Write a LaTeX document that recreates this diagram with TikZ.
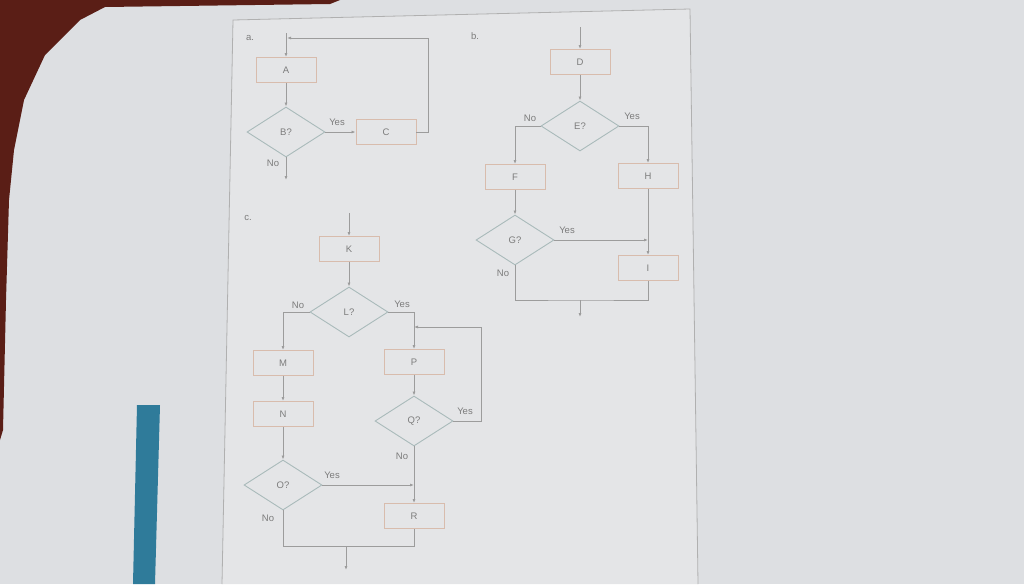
\documentclass[tikz,border=0pt]{standalone}
\usepackage{fontspec}
\setmainfont{Liberation Sans}
\usetikzlibrary{shapes.geometric,arrows.meta,positioning}
\definecolor{wall}{HTML}{DDDFE2}
\definecolor{paper}{HTML}{E4E5E7}
\definecolor{ink}{HTML}{9C9C9C}
\definecolor{boxline}{HTML}{D8BCAD}
\definecolor{diamline}{HTML}{A9BABA}
\definecolor{txt}{HTML}{7C7C7C}
\definecolor{desk}{HTML}{5A1E16}
\definecolor{tab}{HTML}{2F7B9A}

\begin{document}
\begin{tikzpicture}[x=1pt, y=-1pt, node distance=62pt,
  every node/.style={font=\fontsize{9.5}{10}\selectfont, text=txt},
  proc node/.style={draw=boxline, line width=0.9pt, minimum width=60pt, minimum height=25pt, inner sep=0pt},
  test node/.style={diamond, draw=diamline, line width=0.9pt, minimum width=78pt, minimum height=50pt, inner sep=0pt},
  flow/.style={draw=ink, line width=0.8pt, -{Latex[length=4pt,width=3pt]}},
  plain/.style={draw=ink, line width=0.8pt},
  tag/.style={inner sep=1pt}]
\useasboundingbox (0,0) rectangle (1024,584);
% photo background
\fill[wall] (0,0) rectangle (1024,584);
\fill[paper] (233,20) -- (690,9) -- (698,584) -- (222,584) -- cycle;
\draw[ink!80, line width=0.8pt] (222,584) -- (233,20) -- (690,9) -- (698,584);
\fill[desk] (0,0) -- (340,0) -- (330,4) -- (105,7) -- (80,20) -- (45,55) -- (24,100)
  -- (14,150) -- (9,200) -- (6,300) -- (3,430) -- (0,440) -- cycle;
\fill[tab] (137,405) -- (160,405) -- (155,584) -- (133,584) -- cycle;

% a.
\node[tag] (a lab) at (250,38) {a.};
\node[proc node]               (A) at (286,70) {A};
\node[test node, below of=A]   (B) {B?};
\node[proc node, right of=B, node distance=100pt] (C) {C};
\coordinate (a in)   at (286,33);
\coordinate (a back) at (428,38);
\coordinate (a join) at (287,38);
\coordinate (a out)  at (286,180);
\draw[flow] (a in) -- (A.north);
\draw[flow] (A) -- (B);
\draw[flow] (B.east) -- (C.west);
\draw[flow] (C.east) -| (a back) -- (a join);
\draw[flow] (B.south) -- (a out);
\node[tag] (a yes) at (337,122) {Yes};
\node[tag] (a no)  at (273,163) {No};

% b.
\node[tag] (b lab) at (475,36) {b.};
\node[proc node]                                 (D) at (580,62) {D};
\node[test node, below of=D, node distance=64pt] (E) {E?};
\node[proc node]                                 (F) at (515,177) {F};
\node[proc node]                                 (H) at (648,176) {H};
\node[test node, below of=F, node distance=63pt] (G) {G?};
\node[proc node, below of=H, node distance=92pt] (I) {I};
\coordinate (b in)    at (580,27);
\coordinate (b merge) at (580,300);
\coordinate (b out)   at (580,317);
\draw[flow] (b in) -- (D.north);
\draw[flow] (D) -- (E);
\draw[flow] (E.west) -| (F.north);
\draw[flow] (E.east) -| (H.north);
\draw[flow] (F) -- (G);
\draw[flow] (H) -- (I);
\draw[flow] (G.east) -- (G.east -| I.north);
\draw[plain] (G.south) |- (b merge) -| (I.south);
\draw[flow] (b merge) -- (b out);
\node[tag] (b no1)  at (530,118) {No};
\node[tag] (b yes1) at (632,116) {Yes};
\node[tag] (b yes2) at (567,230) {Yes};
\node[tag] (b no2)  at (503,273) {No};

% c.
\node[tag] (c lab) at (248,218) {c.};
\node[proc node]                                 (K) at (349,249) {K};
\node[test node, below of=K, node distance=63pt] (L) {L?};
\node[proc node]                                 (M) at (283,363) {M};
\node[proc node, below of=M, node distance=51pt] (N) {N};
\node[test node, below of=N, node distance=71pt] (O) {O?};
\node[proc node]                                 (P) at (414,362) {P};
\node[test node, below of=P, node distance=59pt] (Q) {Q?};
\node[proc node, below of=Q, node distance=95pt] (R) {R};
\coordinate (c in)    at (349,213);
\coordinate (c back)  at (481,327);
\coordinate (c join)  at (414,327);
\coordinate (c merge) at (346,546);
\coordinate (c out)   at (346,570);
\draw[flow] (c in) -- (K.north);
\draw[flow] (K) -- (L);
\draw[flow] (L.west) -| (M.north);
\draw[flow] (L.east) -| (P.north);
\draw[flow] (M) -- (N);
\draw[flow] (N) -- (O);
\draw[flow] (P) -- (Q);
\draw[flow] (Q.east) -| (c back) -- (c join);
\draw[flow] (Q) -- (R);
\draw[flow] (O.east) -- (O.east -| R.north);
\draw[plain] (O.south) |- (c merge) -| (R.south);
\draw[flow] (c merge) -- (c out);
\node[tag] (c no1)  at (298,305) {No};
\node[tag] (c yes1) at (402,304) {Yes};
\node[tag] (c yes2) at (465,411) {Yes};
\node[tag] (c no2)  at (402,456) {No};
\node[tag] (c yes3) at (332,475) {Yes};
\node[tag] (c no3)  at (268,518) {No};
\end{tikzpicture}
\end{document}
